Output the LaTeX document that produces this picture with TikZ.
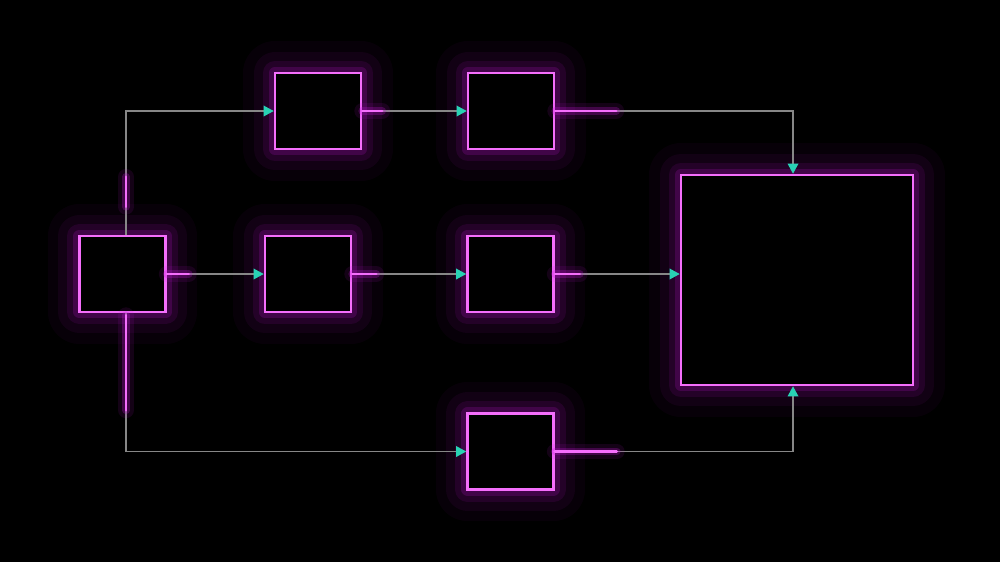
\documentclass[tikz,border=0pt]{standalone}
\usetikzlibrary{arrows.meta}

\definecolor{neon}{RGB}{245,110,252}
\definecolor{neonglow}{RGB}{200,20,220}
\definecolor{wire}{RGB}{135,135,135}
\definecolor{tip}{RGB}{40,210,180}

\tikzset{
  box/.style={draw=neon, line width=0.7pt, fill=black, inner sep=0pt,
    minimum width=0.86cm, minimum height=0.76cm,
    preaction={draw=neonglow, line width=18pt, opacity=0.04, line join=round},
    preaction={draw=neonglow, line width=12pt, opacity=0.06, line join=round},
    preaction={draw=neonglow, line width=7pt, opacity=0.10, line join=round},
    preaction={draw=neonglow, line width=3.5pt, opacity=0.18, line join=round}},
  link/.style={draw=wire, line width=0.5pt,
    -{Triangle[length=2.9pt, width=3pt, color=tip]}},
  spark/.style={draw=neon, line width=0.8pt, line cap=round,
    preaction={draw=neonglow, line width=4.5pt, opacity=0.10, line cap=round},
    preaction={draw=neonglow, line width=2.2pt, opacity=0.25, line cap=round}}
}

\begin{document}
\begin{tikzpicture}
  \path[use as bounding box, fill=black] (0,0) rectangle (10,5.62);

  \node[box] (src)  at (1.225,2.88) {};
  \node[box] (top1) at (3.18,4.51)  {};
  \node[box] (top2) at (5.11,4.51)  {};
  \node[box] (mid1) at (3.08,2.88)  {};
  \node[box] (mid2) at (5.105,2.88) {};
  \node[box] (bot)  at (5.105,1.105) {};
  \node[box, minimum width=2.32cm, minimum height=2.10cm] (sink) at (7.97,2.82) {};

  \draw [link] ([xshift=0.35mm]src.north) |- (top1.west);
  \draw [link] (top1.east) -- (top2.west);
  \draw [link] (top2.east) -| ([xshift=-0.4mm]sink.north);
  \draw [link] (src.east)  -- (mid1.west);
  \draw [link] (mid1.east) -- (mid2.west);
  \draw [link] (mid2.east) -- (sink.west |- mid2.east);
  \draw [link] ([xshift=0.35mm]src.south) |- (bot.west);
  \draw [link] (bot.east)  -| ([xshift=-0.4mm]sink.south);

  \draw [spark] ([xshift=0.35mm,yshift=0.58cm]src.north) -- ++(0,-0.30);
  \draw [spark] ([xshift=0.35mm,yshift=-0.02cm]src.south) -- ++(0,-0.95);
  \draw [spark] (src.east)  -- ++(0.22,0);
  \draw [spark] (top1.east) -- ++(0.20,0);
  \draw [spark] (top2.east) -- ++(0.61,0);
  \draw [spark] (mid1.east) -- ++(0.24,0);
  \draw [spark] (mid2.east) -- ++(0.25,0);
  \draw [spark] (bot.east)  -- ++(0.62,0);
\end{tikzpicture}
\end{document}
